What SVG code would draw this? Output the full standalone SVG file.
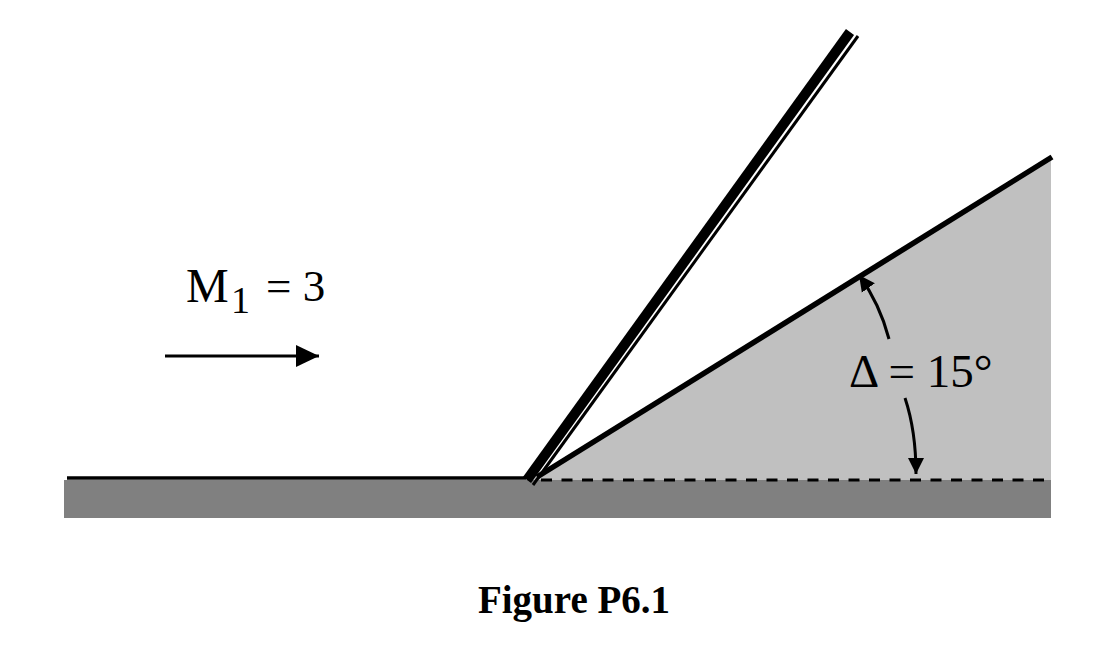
<svg xmlns="http://www.w3.org/2000/svg" width="1094" height="646" viewBox="0 0 1094 646">
<style>
text{font-family:"Liberation Serif","Times New Roman",serif;fill:#000}
.ln{fill:none;stroke:#000;stroke-linecap:butt}
</style>
<defs>
<marker id="ah" markerUnits="userSpaceOnUse" markerWidth="24" markerHeight="24" refX="23" refY="12" orient="auto"><path d="M0 1L23 12L0 23Z" fill="#000"/></marker>
<marker id="as" markerUnits="userSpaceOnUse" markerWidth="18" markerHeight="18" refX="16" refY="9" orient="auto"><path d="M0 1L16 9L0 17Z" fill="#000"/></marker>
</defs>
<rect width="1094" height="646" fill="#fff"/>
<g id="wedge"><path d="M528 480L1051 158V480Z" fill="#c0c0c0"/></g>
<g id="wall"><rect x="64" y="480" width="987" height="38" fill="#808080"/></g>
<g id="connectors">
<path class="ln" stroke-width="3.500" d="M67 478H526"/>
<path class="ln" stroke-width="5.500" d="M537 477L1052 157"/>
<path class="ln" stroke-width="3" stroke-dasharray="11 9.500" d="M541 480H1051"/>
<path class="ln" stroke-width="10" d="M527 480L850 32"/>
<path class="ln" stroke-width="3" d="M533 485L858 36"/>
<path class="ln" stroke-width="3" marker-end="url(#ah)" d="M165 356H319"/>
<path class="ln" stroke-width="3" marker-end="url(#as)" d="M889 339C882 312 872 293 859 275"/>
<path class="ln" stroke-width="3" marker-end="url(#as)" d="M905 398C913 422 916 445 916 474"/>
</g>
<g id="labels">
<text x="186" y="302" font-size="48">M</text>
<text x="231" y="313" font-size="38">1</text>
<text x="266" y="301" font-size="45">= 3</text>
<text x="849" y="387" font-size="47">Δ = 15°</text>
<text x="574" y="613" text-anchor="middle" font-size="39" font-weight="700">Figure P6.1</text>
</g>
</svg>
